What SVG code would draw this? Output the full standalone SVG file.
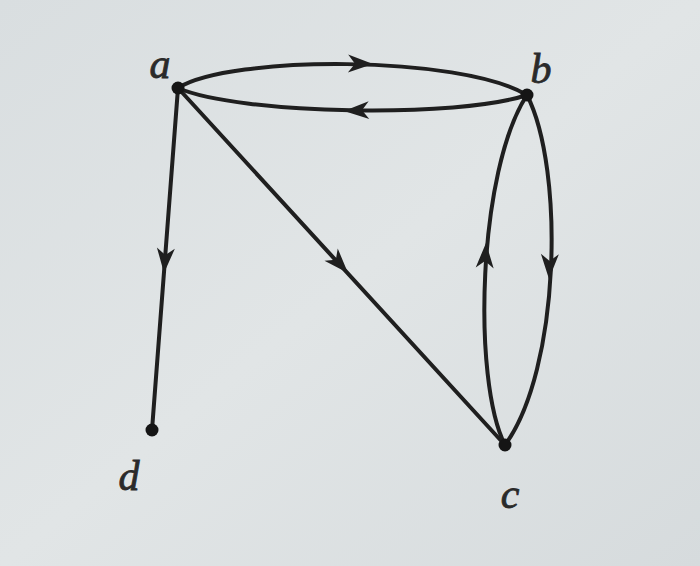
<svg xmlns="http://www.w3.org/2000/svg" xmlns:xlink="http://www.w3.org/1999/xlink" width="700" height="566" viewBox="0 0 700 566">
<defs>
<linearGradient id="bg" x1="0" y1="0" x2="1" y2="1">
<stop offset="0" stop-color="#d9dee0"/>
<stop offset="0.5" stop-color="#e1e5e6"/>
<stop offset="1" stop-color="#d6dbdd"/>
</linearGradient>
<path id="ah" d="M0,0 L-25,-9 L-18,0 L-25,9 Z"/>
<style>
.e{fill:none;stroke:#1f1f1f;stroke-width:4;stroke-linecap:round}
.h{fill:#1f1f1f}
.n{fill:#151515}
.l{font-family:"Liberation Serif","DejaVu Serif",serif;font-style:italic;font-size:42px;fill:#2a2a2a;stroke:#2a2a2a;stroke-width:0.8;text-anchor:middle}
</style>
</defs>
<rect width="700" height="566" fill="url(#bg)"/>
<g id="connectors">
<path class="e" d="M178,88 C230,55 460,55 527,95"/>
<path class="e" d="M527,95 C460,118 240,115 178,88"/>
<path class="e" d="M178,88 L152,430"/>
<path class="e" d="M178,88 L505,445"/>
<path class="e" d="M505,445 C472,380 478,170 527,95"/>
<path class="e" d="M527,95 C565,170 560,370 505,445"/>
<use href="#ah" class="h" transform="translate(373,64) rotate(1)"/>
<use href="#ah" class="h" transform="translate(344,111) rotate(178)"/>
<use href="#ah" class="h" transform="translate(164,273) rotate(94.3)"/>
<use href="#ah" class="h" transform="translate(348,273) rotate(47.5)"/>
<use href="#ah" class="h" transform="translate(486,243) rotate(-87)"/>
<use href="#ah" class="h" transform="translate(549,279) rotate(92)"/>
</g>
<g id="node-a"><circle class="n" cx="178" cy="88" r="6.5"/><text class="l" x="160" y="78">a</text></g>
<g id="node-b"><circle class="n" cx="527" cy="95" r="6.5"/><text class="l" x="541" y="83">b</text></g>
<g id="node-c"><circle class="n" cx="505" cy="445" r="6.5"/><text class="l" x="510" y="508">c</text></g>
<g id="node-d"><circle class="n" cx="152" cy="430" r="6.5"/><text class="l" x="129" y="490">d</text></g>
</svg>
